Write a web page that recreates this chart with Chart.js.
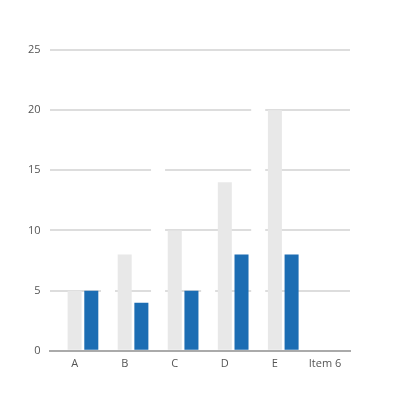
<!DOCTYPE html>
<html>
<head>
<meta charset="utf-8">
<script src="https://cdn.jsdelivr.net/npm/chart.js@4"></script>
<style>
html,body{margin:0;padding:0;background:#fff;}
#wrap{width:400px;height:400px;}
</style>
</head>
<body>
<div id="wrap"><canvas id="c" width="400" height="400"></canvas></div>
<script>
const categories = ["A", "B", "C", "D", "E", "Item 6"];
const hiddenValues = [0, 7, 17, 7, 22, 0];
const greyValues = [5, 8, 10, 14, 20, 0];
const blueValues = [5, 4, 5, 8, 8, 0];
const yTicks = [0, 5, 10, 15, 20, 25];

new Chart(document.getElementById('c'), {
  type: 'bar',
  data: {
    labels: categories,
    datasets: [
      { data: hiddenValues, backgroundColor: '#ffffff', borderWidth: 0 },
      { data: greyValues, backgroundColor: '#e8e8e8', borderWidth: 0 },
      { data: blueValues, backgroundColor: '#1c6db3', borderWidth: 0 }
    ]
  },
  options: {
    responsive: false,
    animation: false,
    devicePixelRatio: 1,
    categoryPercentage: 1.0,
    barPercentage: 0.84,
    layout: { padding: { left: 19, right: 50, top: 50, bottom: 24 } },
    plugins: { legend: { display: false }, tooltip: { enabled: false } },
    scales: {
      x: {
        grid: { display: false, drawTicks: false },
        border: { display: true, color: '#aaaaaa', width: 2 },
        ticks: { color: '#555555', font: { family: 'Open Sans', size: 11 }, padding: 6 }
      },
      y: {
        min: 0, max: 25,
        afterBuildTicks: (s) => { s.ticks = yTicks.map(v => ({ value: v })); },
        grid: { color: '#dddddd', lineWidth: 2, drawTicks: false },
        border: { display: false },
        ticks: { color: '#555555', font: { family: 'Open Sans', size: 11 }, padding: 9 }
      }
    }
  }
});
</script>
</body>
</html>
